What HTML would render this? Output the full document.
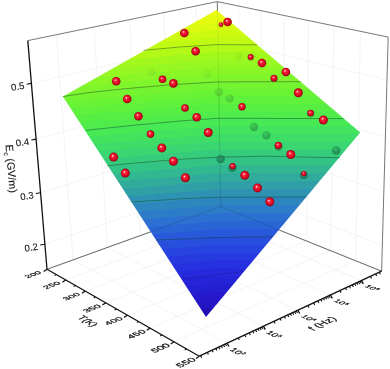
<!DOCTYPE html>
<html><head><meta charset="utf-8"><title>Ec surface</title>
<style>html,body{margin:0;padding:0;background:#fff;}svg{display:block}</style></head>
<body><svg width="390" height="369" viewBox="0 0 390 369">
<rect width="390" height="369" fill="#fff"/>
<defs>
<linearGradient id="surfL" gradientUnits="userSpaceOnUse" x1="216.5" y1="9" x2="241.587" y2="314.943">
<stop offset="0.0000" stop-color="rgb(236, 250, 15)"/><stop offset="0.0201" stop-color="rgb(236, 250, 15)"/>
<stop offset="0.0201" stop-color="rgb(228, 250, 15)"/><stop offset="0.0442" stop-color="rgb(228, 250, 15)"/>
<stop offset="0.0442" stop-color="rgb(218, 250, 15)"/><stop offset="0.0682" stop-color="rgb(218, 250, 15)"/>
<stop offset="0.0682" stop-color="rgb(205, 250, 17)"/><stop offset="0.0922" stop-color="rgb(205, 250, 17)"/>
<stop offset="0.0922" stop-color="rgb(192, 250, 19)"/><stop offset="0.1162" stop-color="rgb(192, 250, 19)"/>
<stop offset="0.1162" stop-color="rgb(178, 249, 23)"/><stop offset="0.1403" stop-color="rgb(178, 249, 23)"/>
<stop offset="0.1403" stop-color="rgb(162, 248, 28)"/><stop offset="0.1644" stop-color="rgb(162, 248, 28)"/>
<stop offset="0.1644" stop-color="rgb(150, 247, 34)"/><stop offset="0.1885" stop-color="rgb(150, 247, 34)"/>
<stop offset="0.1885" stop-color="rgb(139, 246, 38)"/><stop offset="0.2126" stop-color="rgb(139, 246, 38)"/>
<stop offset="0.2126" stop-color="rgb(127, 245, 43)"/><stop offset="0.2367" stop-color="rgb(127, 245, 43)"/>
<stop offset="0.2367" stop-color="rgb(116, 244, 48)"/><stop offset="0.2603" stop-color="rgb(116, 244, 48)"/>
<stop offset="0.2603" stop-color="rgb(105, 243, 53)"/><stop offset="0.2840" stop-color="rgb(105, 243, 53)"/>
<stop offset="0.2840" stop-color="rgb(95, 241, 60)"/><stop offset="0.3076" stop-color="rgb(95, 241, 60)"/>
<stop offset="0.3076" stop-color="rgb(87, 238, 68)"/><stop offset="0.3312" stop-color="rgb(87, 238, 68)"/>
<stop offset="0.3312" stop-color="rgb(79, 236, 76)"/><stop offset="0.3549" stop-color="rgb(79, 236, 76)"/>
<stop offset="0.3549" stop-color="rgb(71, 233, 85)"/><stop offset="0.3802" stop-color="rgb(71, 233, 85)"/>
<stop offset="0.3802" stop-color="rgb(66, 228, 94)"/><stop offset="0.4055" stop-color="rgb(66, 228, 94)"/>
<stop offset="0.4055" stop-color="rgb(62, 221, 103)"/><stop offset="0.4308" stop-color="rgb(62, 221, 103)"/>
<stop offset="0.4308" stop-color="rgb(58, 214, 113)"/><stop offset="0.4562" stop-color="rgb(58, 214, 113)"/>
<stop offset="0.4562" stop-color="rgb(55, 204, 123)"/><stop offset="0.4815" stop-color="rgb(55, 204, 123)"/>
<stop offset="0.4815" stop-color="rgb(51, 195, 133)"/><stop offset="0.5075" stop-color="rgb(51, 195, 133)"/>
<stop offset="0.5075" stop-color="rgb(50, 184, 144)"/><stop offset="0.5336" stop-color="rgb(50, 184, 144)"/>
<stop offset="0.5336" stop-color="rgb(49, 171, 155)"/><stop offset="0.5596" stop-color="rgb(49, 171, 155)"/>
<stop offset="0.5596" stop-color="rgb(48, 159, 166)"/><stop offset="0.5856" stop-color="rgb(48, 159, 166)"/>
<stop offset="0.5856" stop-color="rgb(46, 147, 178)"/><stop offset="0.6117" stop-color="rgb(46, 147, 178)"/>
<stop offset="0.6117" stop-color="rgb(45, 134, 190)"/><stop offset="0.6374" stop-color="rgb(45, 134, 190)"/>
<stop offset="0.6374" stop-color="rgb(44, 124, 200)"/><stop offset="0.6631" stop-color="rgb(44, 124, 200)"/>
<stop offset="0.6631" stop-color="rgb(44, 113, 209)"/><stop offset="0.6888" stop-color="rgb(44, 113, 209)"/>
<stop offset="0.6888" stop-color="rgb(42, 101, 214)"/><stop offset="0.7145" stop-color="rgb(42, 101, 214)"/>
<stop offset="0.7145" stop-color="rgb(40, 89, 219)"/><stop offset="0.7403" stop-color="rgb(40, 89, 219)"/>
<stop offset="0.7403" stop-color="rgb(40, 78, 222)"/><stop offset="0.7656" stop-color="rgb(40, 78, 222)"/>
<stop offset="0.7656" stop-color="rgb(40, 68, 224)"/><stop offset="0.7909" stop-color="rgb(40, 68, 224)"/>
<stop offset="0.7909" stop-color="rgb(39, 58, 224)"/><stop offset="0.8162" stop-color="rgb(39, 58, 224)"/>
<stop offset="0.8162" stop-color="rgb(38, 49, 224)"/><stop offset="0.8416" stop-color="rgb(38, 49, 224)"/>
<stop offset="0.8416" stop-color="rgb(38, 42, 220)"/><stop offset="0.8669" stop-color="rgb(38, 42, 220)"/>
<stop offset="0.8669" stop-color="rgb(38, 36, 216)"/><stop offset="0.8925" stop-color="rgb(38, 36, 216)"/>
<stop offset="0.8925" stop-color="rgb(37, 31, 210)"/><stop offset="0.9182" stop-color="rgb(37, 31, 210)"/>
<stop offset="0.9182" stop-color="rgb(37, 25, 203)"/><stop offset="0.9438" stop-color="rgb(37, 25, 203)"/>
<stop offset="0.9438" stop-color="rgb(36, 20, 195)"/><stop offset="0.9695" stop-color="rgb(36, 20, 195)"/>
<stop offset="0.9695" stop-color="rgb(33, 15, 181)"/><stop offset="0.9951" stop-color="rgb(33, 15, 181)"/>
<stop offset="0.9951" stop-color="rgb(32, 12, 173)"/><stop offset="1.0000" stop-color="rgb(32, 12, 173)"/>
</linearGradient>
<linearGradient id="surfR" gradientUnits="userSpaceOnUse" x1="0" y1="9" x2="0" y2="317">
<stop offset="0.0000" stop-color="rgb(236, 250, 15)"/><stop offset="0.0201" stop-color="rgb(236, 250, 15)"/>
<stop offset="0.0201" stop-color="rgb(228, 250, 15)"/><stop offset="0.0442" stop-color="rgb(228, 250, 15)"/>
<stop offset="0.0442" stop-color="rgb(218, 250, 15)"/><stop offset="0.0682" stop-color="rgb(218, 250, 15)"/>
<stop offset="0.0682" stop-color="rgb(205, 250, 17)"/><stop offset="0.0922" stop-color="rgb(205, 250, 17)"/>
<stop offset="0.0922" stop-color="rgb(192, 250, 19)"/><stop offset="0.1162" stop-color="rgb(192, 250, 19)"/>
<stop offset="0.1162" stop-color="rgb(178, 249, 23)"/><stop offset="0.1403" stop-color="rgb(178, 249, 23)"/>
<stop offset="0.1403" stop-color="rgb(162, 248, 28)"/><stop offset="0.1644" stop-color="rgb(162, 248, 28)"/>
<stop offset="0.1644" stop-color="rgb(150, 247, 34)"/><stop offset="0.1885" stop-color="rgb(150, 247, 34)"/>
<stop offset="0.1885" stop-color="rgb(139, 246, 38)"/><stop offset="0.2126" stop-color="rgb(139, 246, 38)"/>
<stop offset="0.2126" stop-color="rgb(127, 245, 43)"/><stop offset="0.2367" stop-color="rgb(127, 245, 43)"/>
<stop offset="0.2367" stop-color="rgb(116, 244, 48)"/><stop offset="0.2603" stop-color="rgb(116, 244, 48)"/>
<stop offset="0.2603" stop-color="rgb(105, 243, 53)"/><stop offset="0.2840" stop-color="rgb(105, 243, 53)"/>
<stop offset="0.2840" stop-color="rgb(95, 241, 60)"/><stop offset="0.3076" stop-color="rgb(95, 241, 60)"/>
<stop offset="0.3076" stop-color="rgb(87, 238, 68)"/><stop offset="0.3312" stop-color="rgb(87, 238, 68)"/>
<stop offset="0.3312" stop-color="rgb(79, 236, 76)"/><stop offset="0.3549" stop-color="rgb(79, 236, 76)"/>
<stop offset="0.3549" stop-color="rgb(71, 233, 85)"/><stop offset="0.3802" stop-color="rgb(71, 233, 85)"/>
<stop offset="0.3802" stop-color="rgb(66, 228, 94)"/><stop offset="0.4055" stop-color="rgb(66, 228, 94)"/>
<stop offset="0.4055" stop-color="rgb(62, 221, 103)"/><stop offset="0.4308" stop-color="rgb(62, 221, 103)"/>
<stop offset="0.4308" stop-color="rgb(58, 214, 113)"/><stop offset="0.4562" stop-color="rgb(58, 214, 113)"/>
<stop offset="0.4562" stop-color="rgb(55, 204, 123)"/><stop offset="0.4815" stop-color="rgb(55, 204, 123)"/>
<stop offset="0.4815" stop-color="rgb(51, 195, 133)"/><stop offset="0.5075" stop-color="rgb(51, 195, 133)"/>
<stop offset="0.5075" stop-color="rgb(50, 184, 144)"/><stop offset="0.5336" stop-color="rgb(50, 184, 144)"/>
<stop offset="0.5336" stop-color="rgb(49, 171, 155)"/><stop offset="0.5596" stop-color="rgb(49, 171, 155)"/>
<stop offset="0.5596" stop-color="rgb(48, 159, 166)"/><stop offset="0.5856" stop-color="rgb(48, 159, 166)"/>
<stop offset="0.5856" stop-color="rgb(46, 147, 178)"/><stop offset="0.6117" stop-color="rgb(46, 147, 178)"/>
<stop offset="0.6117" stop-color="rgb(45, 134, 190)"/><stop offset="0.6374" stop-color="rgb(45, 134, 190)"/>
<stop offset="0.6374" stop-color="rgb(44, 124, 200)"/><stop offset="0.6631" stop-color="rgb(44, 124, 200)"/>
<stop offset="0.6631" stop-color="rgb(44, 113, 209)"/><stop offset="0.6888" stop-color="rgb(44, 113, 209)"/>
<stop offset="0.6888" stop-color="rgb(42, 101, 214)"/><stop offset="0.7145" stop-color="rgb(42, 101, 214)"/>
<stop offset="0.7145" stop-color="rgb(40, 89, 219)"/><stop offset="0.7403" stop-color="rgb(40, 89, 219)"/>
<stop offset="0.7403" stop-color="rgb(40, 78, 222)"/><stop offset="0.7656" stop-color="rgb(40, 78, 222)"/>
<stop offset="0.7656" stop-color="rgb(40, 68, 224)"/><stop offset="0.7909" stop-color="rgb(40, 68, 224)"/>
<stop offset="0.7909" stop-color="rgb(39, 58, 224)"/><stop offset="0.8162" stop-color="rgb(39, 58, 224)"/>
<stop offset="0.8162" stop-color="rgb(38, 49, 224)"/><stop offset="0.8416" stop-color="rgb(38, 49, 224)"/>
<stop offset="0.8416" stop-color="rgb(38, 42, 220)"/><stop offset="0.8669" stop-color="rgb(38, 42, 220)"/>
<stop offset="0.8669" stop-color="rgb(38, 36, 216)"/><stop offset="0.8925" stop-color="rgb(38, 36, 216)"/>
<stop offset="0.8925" stop-color="rgb(37, 31, 210)"/><stop offset="0.9182" stop-color="rgb(37, 31, 210)"/>
<stop offset="0.9182" stop-color="rgb(37, 25, 203)"/><stop offset="0.9438" stop-color="rgb(37, 25, 203)"/>
<stop offset="0.9438" stop-color="rgb(36, 20, 195)"/><stop offset="0.9695" stop-color="rgb(36, 20, 195)"/>
<stop offset="0.9695" stop-color="rgb(33, 15, 181)"/><stop offset="0.9951" stop-color="rgb(33, 15, 181)"/>
<stop offset="0.9951" stop-color="rgb(32, 12, 173)"/><stop offset="1.0000" stop-color="rgb(32, 12, 173)"/>
</linearGradient>
<radialGradient id="sr" cx="0.5" cy="0.5" r="0.52" fx="0.37" fy="0.34">
<stop offset="0" stop-color="#fff4f4"/>
<stop offset="0.1" stop-color="#ffb0b0"/>
<stop offset="0.28" stop-color="#f32a3e"/>
<stop offset="0.62" stop-color="#e30a26"/>
<stop offset="0.88" stop-color="#aa0018"/>
<stop offset="1" stop-color="#80000f"/>
</radialGradient>
<radialGradient id="sg" cx="0.4" cy="0.35" r="0.65">
<stop offset="0" stop-color="#0a3c28" stop-opacity="0.18"/>
<stop offset="0.6" stop-color="#0a3c28" stop-opacity="0.38"/>
<stop offset="1" stop-color="#0a3c28" stop-opacity="0.45"/>
</radialGradient>
</defs>
<g id="grid">
<line x1="65.66" y1="279.95" x2="240.80" y2="214.58" stroke="#edeff2" stroke-width="0.7" />
<line x1="241.02" y1="214.67" x2="238.72" y2="6.05" stroke="#edeff2" stroke-width="0.7" />
<line x1="85.23" y1="291.11" x2="261.76" y2="223.01" stroke="#edeff2" stroke-width="0.7" />
<line x1="262.14" y1="223.16" x2="261.03" y2="10.68" stroke="#edeff2" stroke-width="0.7" />
<line x1="105.77" y1="302.84" x2="283.64" y2="231.81" stroke="#edeff2" stroke-width="0.7" />
<line x1="284.11" y1="232.00" x2="284.29" y2="15.52" stroke="#edeff2" stroke-width="0.7" />
<line x1="127.37" y1="315.16" x2="306.49" y2="241.00" stroke="#edeff2" stroke-width="0.7" />
<line x1="306.98" y1="241.19" x2="308.57" y2="20.56" stroke="#edeff2" stroke-width="0.7" />
<line x1="150.09" y1="328.12" x2="330.38" y2="250.60" stroke="#edeff2" stroke-width="0.7" />
<line x1="330.81" y1="250.78" x2="333.93" y2="25.83" stroke="#edeff2" stroke-width="0.7" />
<line x1="174.03" y1="341.78" x2="355.39" y2="260.66" stroke="#edeff2" stroke-width="0.7" />
<line x1="355.66" y1="260.77" x2="360.45" y2="31.34" stroke="#edeff2" stroke-width="0.7" />
<line x1="73.03" y1="259.89" x2="227.14" y2="343.22" stroke="#edeff2" stroke-width="0.7" />
<line x1="73.06" y1="259.88" x2="56.48" y2="34.70" stroke="#edeff2" stroke-width="0.7" />
<line x1="107.27" y1="247.51" x2="263.46" y2="326.28" stroke="#edeff2" stroke-width="0.7" />
<line x1="107.32" y1="247.49" x2="94.04" y2="26.97" stroke="#edeff2" stroke-width="0.7" />
<line x1="139.96" y1="235.69" x2="297.86" y2="310.25" stroke="#edeff2" stroke-width="0.7" />
<line x1="140.01" y1="235.67" x2="129.75" y2="19.62" stroke="#edeff2" stroke-width="0.7" />
<line x1="171.20" y1="224.40" x2="330.47" y2="295.04" stroke="#edeff2" stroke-width="0.7" />
<line x1="171.25" y1="224.38" x2="163.74" y2="12.62" stroke="#edeff2" stroke-width="0.7" />
<line x1="201.10" y1="213.59" x2="361.43" y2="280.61" stroke="#edeff2" stroke-width="0.7" />
<line x1="201.12" y1="213.58" x2="196.13" y2="5.96" stroke="#edeff2" stroke-width="0.7" />
<line x1="44.90" y1="244.28" x2="220.32" y2="183.88" stroke="#edeff2" stroke-width="0.7" />
<line x1="220.32" y1="183.48" x2="382.34" y2="245.10" stroke="#edeff2" stroke-width="0.7" />
<line x1="40.57" y1="192.75" x2="219.55" y2="137.45" stroke="#edeff2" stroke-width="0.7" />
<line x1="219.54" y1="136.56" x2="383.84" y2="191.75" stroke="#edeff2" stroke-width="0.7" />
<line x1="36.07" y1="139.16" x2="218.76" y2="89.39" stroke="#edeff2" stroke-width="0.7" />
<line x1="218.74" y1="88.42" x2="385.39" y2="136.79" stroke="#edeff2" stroke-width="0.7" />
<line x1="31.39" y1="83.38" x2="217.93" y2="39.61" stroke="#edeff2" stroke-width="0.7" />
<line x1="217.92" y1="39.01" x2="386.99" y2="80.14" stroke="#edeff2" stroke-width="0.7" />
</g>
<g id="edges">
<line x1="27.80" y1="40.60" x2="217.30" y2="1.60" stroke="#787878" stroke-width="1.0" />
<line x1="217.30" y1="1.60" x2="388.20" y2="37.10" stroke="#787878" stroke-width="1.0" />
<line x1="217.30" y1="1.60" x2="220.70" y2="206.50" stroke="#787878" stroke-width="1.0" />
<line x1="47.00" y1="269.30" x2="220.70" y2="206.50" stroke="#787878" stroke-width="1.0" />
<line x1="220.70" y1="206.50" x2="381.60" y2="271.20" stroke="#787878" stroke-width="1.0" />
<line x1="381.60" y1="271.20" x2="388.20" y2="37.10" stroke="#787878" stroke-width="1.0" />
</g>
<polygon points="216.50,10.00 360.20,132.50 216.50,304.44" fill="url(#surfR)"/>
<polygon points="62.90,96.60 216.50,10.00 217.10,10.00 217.10,303.74 206.00,317.00" fill="url(#surfL)"/>
<polyline points="182,279 243.5,271.5" fill="none" stroke="#101050" stroke-width="0.9" opacity="0.3"/>
<g id="contours" fill="none" stroke="#123a2a" stroke-width="0.8" opacity="0.55">
<polyline points="143.5,50.3 180,47 217,44.6 257,44.8"/>
<polyline points="62.9,96.6 86,92.9 120,89.2 170,84.8 217,81.9 300.5,81.6"/>
<polyline points="85.6,130.4 135,125.1 180,121 217,118.3 343.4,118.6"/>
<polyline points="107.5,165.7 135,163 180,159.3 217,157.2 265,156.2 340,157.7"/>
<polyline points="131.5,202 180,198.9 217,197.2 306.5,196.9"/>
<polyline points="156,240 220,237.5 273,236.5"/>
</g>
<g id="through" stroke="#0a2a1a" stroke-width="0.9" opacity="0.18">
<line x1="218.60" y1="80.00" x2="220.70" y2="206.50" stroke="#0a2a1a" stroke-width="0.9" />
<line x1="47.00" y1="269.30" x2="220.70" y2="206.50" stroke="#0a2a1a" stroke-width="0.9" />
<line x1="220.70" y1="206.50" x2="381.60" y2="271.20" stroke="#0a2a1a" stroke-width="0.9" />
<line x1="217.30" y1="1.60" x2="218.60" y2="80.00" stroke="#0a2a1a" stroke-width="0.4" />
</g>
<g id="ghosts">
<circle cx="151.5" cy="71.7" r="4" fill="url(#sg)" opacity="0.15"/>
<circle cx="207.2" cy="74.3" r="4" fill="url(#sg)" opacity="0.15"/>
<circle cx="238.5" cy="56.3" r="4" fill="url(#sg)" opacity="0.15"/>
<circle cx="219" cy="92.2" r="4" fill="url(#sg)" opacity="0.4"/>
<circle cx="229.7" cy="98.6" r="4" fill="url(#sg)" opacity="0.45"/>
<circle cx="254" cy="127" r="4.2" fill="url(#sg)" opacity="0.75"/>
<circle cx="266.3" cy="135.4" r="4.2" fill="url(#sg)" opacity="0.75"/>
<circle cx="220.6" cy="159" r="4.3" fill="url(#sg)" opacity="1"/>
<circle cx="336.2" cy="150.5" r="4.3" fill="url(#sg)" opacity="1"/>
<circle cx="232.4" cy="167.8" r="4.3" fill="url(#sg)" opacity="1"/>
<circle cx="303.8" cy="175.3" r="4.0" fill="url(#sg)" opacity="1"/>
<circle cx="310.6" cy="113.8" r="3.8" fill="url(#sg)" opacity="0.7"/>
<circle cx="250.7" cy="57.8" r="3.6" fill="url(#sg)" opacity="0.3"/>
<circle cx="221" cy="25.2" r="3.2" fill="url(#sg)" opacity="0.2"/>
<circle cx="278.5" cy="146.6" r="4.2" fill="url(#sg)" opacity="0.9"/>
</g>
<g id="spheres">
<circle cx="227.6" cy="22" r="4.3" fill="url(#sr)"/>
<circle cx="221" cy="24.6" r="2.3" fill="url(#sr)"/>
<circle cx="184.3" cy="33" r="4.3" fill="url(#sr)"/>
<circle cx="195.6" cy="51.2" r="4.3" fill="url(#sr)"/>
<circle cx="250.7" cy="57.1" r="3" fill="url(#sr)"/>
<circle cx="262" cy="63" r="4.3" fill="url(#sr)"/>
<circle cx="285.9" cy="72" r="4.3" fill="url(#sr)"/>
<circle cx="274" cy="78.2" r="3.5" fill="url(#sr)"/>
<circle cx="298.3" cy="92.8" r="4.5" fill="url(#sr)"/>
<circle cx="116.2" cy="81.3" r="4.3" fill="url(#sr)"/>
<circle cx="127.2" cy="99" r="4.3" fill="url(#sr)"/>
<circle cx="162.5" cy="79.3" r="3.8" fill="url(#sr)"/>
<circle cx="173.4" cy="83.4" r="4.3" fill="url(#sr)"/>
<circle cx="138.4" cy="116.2" r="4.3" fill="url(#sr)"/>
<circle cx="185" cy="108" r="3.8" fill="url(#sr)"/>
<circle cx="196.7" cy="117.3" r="4.3" fill="url(#sr)"/>
<circle cx="242" cy="106.7" r="3.7" fill="url(#sr)"/>
<circle cx="310.6" cy="113" r="3.3" fill="url(#sr)"/>
<circle cx="323.4" cy="120" r="4.5" fill="url(#sr)"/>
<circle cx="208.2" cy="132.5" r="4.5" fill="url(#sr)"/>
<circle cx="150.5" cy="134.1" r="3.8" fill="url(#sr)"/>
<circle cx="161.8" cy="147.9" r="4.5" fill="url(#sr)"/>
<circle cx="113.6" cy="157.1" r="4.5" fill="url(#sr)"/>
<circle cx="173.4" cy="161.2" r="4.5" fill="url(#sr)"/>
<circle cx="125.3" cy="173.1" r="4.5" fill="url(#sr)"/>
<circle cx="185.4" cy="177.7" r="4.5" fill="url(#sr)"/>
<circle cx="232.6" cy="166.2" r="3.1" fill="url(#sr)"/>
<circle cx="244.8" cy="175.3" r="4.5" fill="url(#sr)"/>
<circle cx="257.5" cy="187.9" r="4.5" fill="url(#sr)"/>
<circle cx="269.8" cy="201.8" r="4.5" fill="url(#sr)"/>
<circle cx="278.3" cy="145.3" r="3.6" fill="url(#sr)"/>
<circle cx="290.8" cy="154.5" r="4.5" fill="url(#sr)"/>
<circle cx="303.8" cy="173.6" r="2.6" fill="url(#sr)"/>
</g>
<g id="axes">
<line x1="27.80" y1="40.60" x2="47.00" y2="269.30" stroke="#111" stroke-width="1.3" />
<line x1="47.00" y1="269.30" x2="199.30" y2="356.20" stroke="#111" stroke-width="1.3" />
<line x1="199.30" y1="356.20" x2="381.60" y2="271.20" stroke="#111" stroke-width="1.3" />
<line x1="44.90" y1="244.28" x2="40.20" y2="245.08" stroke="#111" stroke-width="1.1" />
<line x1="40.57" y1="192.75" x2="35.87" y2="193.55" stroke="#111" stroke-width="1.1" />
<line x1="36.07" y1="139.16" x2="31.37" y2="139.96" stroke="#111" stroke-width="1.1" />
<line x1="31.39" y1="83.38" x2="26.69" y2="84.18" stroke="#111" stroke-width="1.1" />
<line x1="47.00" y1="269.30" x2="43.68" y2="271.50" stroke="#111" stroke-width="1.25" />
<line x1="65.66" y1="279.95" x2="62.34" y2="282.15" stroke="#111" stroke-width="1.25" />
<line x1="85.23" y1="291.11" x2="81.91" y2="293.31" stroke="#111" stroke-width="1.25" />
<line x1="105.77" y1="302.84" x2="102.45" y2="305.04" stroke="#111" stroke-width="1.25" />
<line x1="127.37" y1="315.16" x2="124.05" y2="317.36" stroke="#111" stroke-width="1.25" />
<line x1="150.09" y1="328.12" x2="146.77" y2="330.32" stroke="#111" stroke-width="1.25" />
<line x1="174.03" y1="341.78" x2="170.71" y2="343.98" stroke="#111" stroke-width="1.25" />
<line x1="199.30" y1="356.20" x2="195.98" y2="358.40" stroke="#111" stroke-width="1.25" />
<line x1="56.22" y1="274.56" x2="54.56" y2="275.66" stroke="#111" stroke-width="1.1" />
<line x1="75.33" y1="285.46" x2="73.67" y2="286.56" stroke="#111" stroke-width="1.1" />
<line x1="95.38" y1="296.90" x2="93.72" y2="298.00" stroke="#111" stroke-width="1.1" />
<line x1="116.43" y1="308.92" x2="114.77" y2="310.02" stroke="#111" stroke-width="1.1" />
<line x1="138.58" y1="321.55" x2="136.92" y2="322.65" stroke="#111" stroke-width="1.1" />
<line x1="161.90" y1="334.86" x2="160.24" y2="335.96" stroke="#111" stroke-width="1.1" />
<line x1="186.49" y1="348.89" x2="184.83" y2="349.99" stroke="#111" stroke-width="1.1" />
<line x1="227.14" y1="343.22" x2="229.00" y2="346.53" stroke="#111" stroke-width="1.3" />
<line x1="263.46" y1="326.28" x2="265.33" y2="329.59" stroke="#111" stroke-width="1.3" />
<line x1="297.86" y1="310.25" x2="299.72" y2="313.55" stroke="#111" stroke-width="1.3" />
<line x1="330.47" y1="295.04" x2="332.33" y2="298.35" stroke="#111" stroke-width="1.3" />
<line x1="361.43" y1="280.61" x2="363.29" y2="283.91" stroke="#111" stroke-width="1.3" />
<line x1="200.51" y1="355.64" x2="201.63" y2="357.64" stroke="#111" stroke-width="1.1" />
<line x1="207.32" y1="352.46" x2="208.44" y2="354.46" stroke="#111" stroke-width="1.1" />
<line x1="212.11" y1="350.23" x2="213.23" y2="352.23" stroke="#111" stroke-width="1.1" />
<line x1="215.80" y1="348.51" x2="216.92" y2="350.51" stroke="#111" stroke-width="1.1" />
<line x1="218.80" y1="347.11" x2="219.93" y2="349.11" stroke="#111" stroke-width="1.1" />
<line x1="221.33" y1="345.93" x2="222.45" y2="347.93" stroke="#111" stroke-width="1.1" />
<line x1="223.51" y1="344.91" x2="224.63" y2="346.91" stroke="#111" stroke-width="1.1" />
<line x1="225.43" y1="344.02" x2="226.55" y2="346.02" stroke="#111" stroke-width="1.1" />
<line x1="238.29" y1="338.02" x2="239.41" y2="340.02" stroke="#111" stroke-width="1.1" />
<line x1="244.72" y1="335.02" x2="245.85" y2="337.02" stroke="#111" stroke-width="1.1" />
<line x1="249.25" y1="332.91" x2="250.38" y2="334.91" stroke="#111" stroke-width="1.1" />
<line x1="252.74" y1="331.28" x2="253.87" y2="333.28" stroke="#111" stroke-width="1.1" />
<line x1="255.58" y1="329.96" x2="256.71" y2="331.96" stroke="#111" stroke-width="1.1" />
<line x1="257.97" y1="328.85" x2="259.10" y2="330.85" stroke="#111" stroke-width="1.1" />
<line x1="260.03" y1="327.88" x2="261.16" y2="329.88" stroke="#111" stroke-width="1.1" />
<line x1="261.85" y1="327.04" x2="262.97" y2="329.04" stroke="#111" stroke-width="1.1" />
<line x1="274.01" y1="321.36" x2="275.14" y2="323.36" stroke="#111" stroke-width="1.1" />
<line x1="280.11" y1="318.52" x2="281.23" y2="320.52" stroke="#111" stroke-width="1.1" />
<line x1="284.39" y1="316.52" x2="285.52" y2="318.52" stroke="#111" stroke-width="1.1" />
<line x1="287.70" y1="314.98" x2="288.83" y2="316.98" stroke="#111" stroke-width="1.1" />
<line x1="290.39" y1="313.73" x2="291.51" y2="315.73" stroke="#111" stroke-width="1.1" />
<line x1="292.65" y1="312.67" x2="293.78" y2="314.67" stroke="#111" stroke-width="1.1" />
<line x1="294.61" y1="311.76" x2="295.73" y2="313.76" stroke="#111" stroke-width="1.1" />
<line x1="296.32" y1="310.96" x2="297.45" y2="312.96" stroke="#111" stroke-width="1.1" />
<line x1="307.86" y1="305.58" x2="308.98" y2="307.59" stroke="#111" stroke-width="1.1" />
<line x1="313.63" y1="302.89" x2="314.76" y2="304.89" stroke="#111" stroke-width="1.1" />
<line x1="317.70" y1="301.00" x2="318.82" y2="303.00" stroke="#111" stroke-width="1.1" />
<line x1="320.83" y1="299.53" x2="321.96" y2="301.54" stroke="#111" stroke-width="1.1" />
<line x1="323.38" y1="298.35" x2="324.51" y2="300.35" stroke="#111" stroke-width="1.1" />
<line x1="325.53" y1="297.34" x2="326.65" y2="299.35" stroke="#111" stroke-width="1.1" />
<line x1="327.38" y1="296.48" x2="328.51" y2="298.48" stroke="#111" stroke-width="1.1" />
<line x1="329.01" y1="295.72" x2="330.14" y2="297.72" stroke="#111" stroke-width="1.1" />
<line x1="339.95" y1="290.62" x2="341.08" y2="292.62" stroke="#111" stroke-width="1.1" />
<line x1="345.44" y1="288.06" x2="346.56" y2="290.06" stroke="#111" stroke-width="1.1" />
<line x1="349.30" y1="286.26" x2="350.42" y2="288.26" stroke="#111" stroke-width="1.1" />
<line x1="352.27" y1="284.87" x2="353.40" y2="286.88" stroke="#111" stroke-width="1.1" />
<line x1="354.69" y1="283.75" x2="355.82" y2="285.75" stroke="#111" stroke-width="1.1" />
<line x1="356.73" y1="282.79" x2="357.86" y2="284.80" stroke="#111" stroke-width="1.1" />
<line x1="358.49" y1="281.97" x2="359.62" y2="283.97" stroke="#111" stroke-width="1.1" />
<line x1="360.04" y1="281.25" x2="361.17" y2="283.25" stroke="#111" stroke-width="1.1" />
<line x1="370.44" y1="276.40" x2="371.57" y2="278.40" stroke="#111" stroke-width="1.1" />
<line x1="375.65" y1="273.97" x2="376.78" y2="275.97" stroke="#111" stroke-width="1.1" />
<line x1="379.32" y1="272.26" x2="380.45" y2="274.26" stroke="#111" stroke-width="1.1" />
</g>
<g id="labels" font-family="Liberation Sans, Arial, sans-serif" fill="#111" stroke="#111" stroke-width="0.32" text-anchor="middle">
<text transform="translate(31.7,250.7) rotate(-8)" font-size="9.6" stroke-width="0.08">0.2</text>
<text transform="translate(27.4,199.2) rotate(-8)" font-size="9.6" stroke-width="0.08">0.3</text>
<text transform="translate(22.9,145.6) rotate(-8)" font-size="9.6" stroke-width="0.08">0.4</text>
<text transform="translate(18.2,89.8) rotate(-8)" font-size="9.6" stroke-width="0.08">0.5</text>
<text transform="matrix(0.9541,-0.3449,0.6099,0.3583,32.9,274.4)" y="3.31" font-size="9.2" >200</text>
<text transform="matrix(0.9720,-0.3628,0.6328,0.3717,51.6,285.2)" y="3.31" font-size="9.2" >250</text>
<text transform="matrix(0.9901,-0.3820,0.6573,0.3859,71.3,296.5)" y="3.31" font-size="9.2" >300</text>
<text transform="matrix(1.0081,-0.4026,0.6835,0.4011,91.9,308.4)" y="3.31" font-size="9.2" >350</text>
<text transform="matrix(1.0261,-0.4248,0.7115,0.4173,113.5,320.9)" y="3.31" font-size="9.2" >400</text>
<text transform="matrix(1.0440,-0.4489,0.7416,0.4348,136.3,334.0)" y="3.31" font-size="9.2" >450</text>
<text transform="matrix(1.0617,-0.4749,0.7738,0.4535,160.3,347.9)" y="3.31" font-size="9.2" >500</text>
<text transform="matrix(1.0790,-0.5031,0.8086,0.4737,185.7,362.5)" y="3.31" font-size="9.2" >550</text>
<text transform="matrix(0.8685,0.4696,-0.8348,0.3971,237.6,351.8)" y="3.31" font-size="9.2" >10<tspan font-size="5.5" dy="-3.6">2</tspan></text>
<text transform="matrix(0.8758,0.4417,-0.7892,0.3754,274.0,334.5)" y="3.31" font-size="9.2" >10<tspan font-size="5.5" dy="-3.6">3</tspan></text>
<text transform="matrix(0.8811,0.4160,-0.7472,0.3554,308.5,318.1)" y="3.31" font-size="9.2" >10<tspan font-size="5.5" dy="-3.6">4</tspan></text>
<text transform="matrix(0.8847,0.3924,-0.7085,0.3370,341.2,302.6)" y="3.31" font-size="9.2" >10<tspan font-size="5.5" dy="-3.6">5</tspan></text>
<text transform="matrix(0.8867,0.3706,-0.6728,0.3200,372.2,287.8)" y="3.31" font-size="9.2" >10<tspan font-size="5.5" dy="-3.6">6</tspan></text>
<text transform="matrix(0.9159,-0.4452,0.8646,0.4097,322.0,323.5)" y="3.85" font-size="10.7" >f (Hz)</text>
<text transform="matrix(0.7489,0.4529,-0.9055,0.3684,88.0,321.0)" y="3.82" font-size="10.6" >T(K)</text>
<text transform="translate(7.6,169.0) rotate(85)" font-size="10.7" stroke-width="0.08">E<tspan font-size="7" dy="2.5">c</tspan><tspan dy="-2.5"> (GV/m)</tspan></text>
</g>
</svg></body></html>
